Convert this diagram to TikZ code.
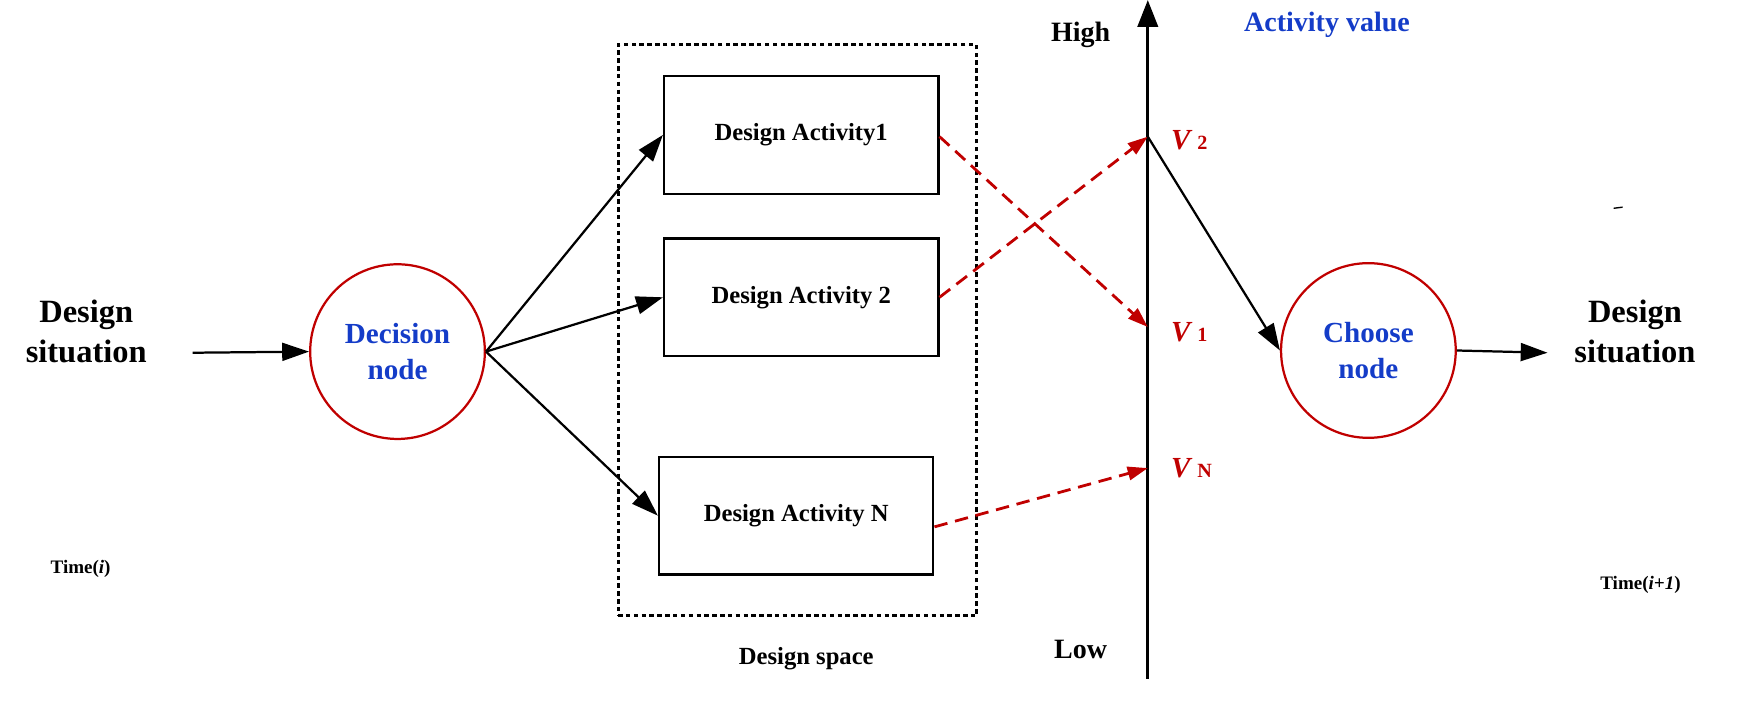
\documentclass[tikz,border=0pt]{standalone}
\usepackage{fontspec}
\setmainfont{Liberation Serif}
\usetikzlibrary{arrows.meta}
\definecolor{dred}{RGB}{192,0,0}
\definecolor{dblue}{RGB}{20,60,200}
\begin{document}
\begin{tikzpicture}[x=1pt,y=-1pt,
  big/.style={font=\fontsize{29}{36}\selectfont\bfseries,align=center},
  mid/.style={font=\fontsize{22}{26}\selectfont\bfseries},
  small/.style={font=\fontsize{17}{20}\selectfont\bfseries},
  circ/.style={circle,draw=dred,line width=2pt,minimum size=156pt,text=dblue,font=\fontsize{26}{32}\selectfont\bfseries,align=center},
  abox/.style={draw,line width=2pt,minimum width=245pt,minimum height=105pt,font=\fontsize{22}{26}\selectfont\bfseries},
  arr/.style={line width=2pt,-{Triangle[length=24pt,width=16pt]}},
  rarr/.style={draw=dred,line width=2.5pt,dash pattern=on 12pt off 7pt,-{Triangle[length=18pt,width=12pt]},dred},
  vl/.style={text=dred,font=\fontsize{26}{30}\selectfont\bfseries}]
\useasboundingbox (0,0) rectangle (1561,647);
\node[big] (ds1) at (77,296) {Design\\situation};
\node[circ] (dec) at (355,314) {Decision\\node};
\draw[arr] (172,315) coordinate (s) -- (dec.west);
\node[draw,line width=2.5pt,dash pattern=on 4pt off 3pt,minimum width=320pt,minimum height=510pt] (space) at (712,295) {};
\node[mid] (spl) at (720,588) {Design space};
\node[abox] (a1) at (715.5,120.5) {Design Activity1};
\node[abox] (a2) at (715.5,265.5) {Design Activity 2};
\node[abox] (an) at (711,460.5) {Design Activity N};
\draw[arr] (dec.east) -- (a1.west);
\draw[arr] (dec.east) -- (a2.west);
\draw[arr] (dec.east) -- (an.west);
\coordinate (bot) at (1025,606);
\coordinate (top) at (1025,0);
\draw[line width=3pt,-{Triangle[length=24pt,width=18pt]}] (bot) -- (top);
\node[mid,font=\fontsize{25}{30}\selectfont\bfseries] (hi) at (965,31) {High};
\node[mid,font=\fontsize{25}{30}\selectfont\bfseries] (lo) at (965,580) {Low};
\node[mid,font=\fontsize{25}{30}\selectfont\bfseries,text=dblue] (av) at (1185,22) {Activity value};
\coordinate (p2) at (1025,122);
\coordinate (p1) at (1025,292);
\coordinate (pn) at (1025,418);
\node[vl] (v2) at (1062,125) {\textit{V}\,{\fontsize{18}{20}\selectfont 2}};
\node[vl] (v1) at (1062,297) {\textit{V}\,{\fontsize{18}{20}\selectfont 1}};
\node[vl] (vn) at (1064,418) {\textit{V}\,{\fontsize{18}{20}\selectfont N}};
\draw[rarr] (a1.east |- 0,122) -- (p1);
\draw[rarr] (a2.east) -- (p2);
\draw[rarr] (an.east) ++(0,10) -- (pn);
\node[circ] (ch) at (1222,313) {Choose\\node};
\draw[arr] (p2) -- (ch.west);
\coordinate (e) at (1382,315);
\draw[arr] (ch.east) -- (e);
\node[big] (ds2) at (1460,296) {Design\\situation};
\node[small] (t1) at (72,508) {Time(\textit{i})};
\node[small] (t2) at (1465,522) {Time(\textit{i+1})};
\draw[line width=1.2pt] (1441,186) -- (1449,185);
\end{tikzpicture}
\end{document}
